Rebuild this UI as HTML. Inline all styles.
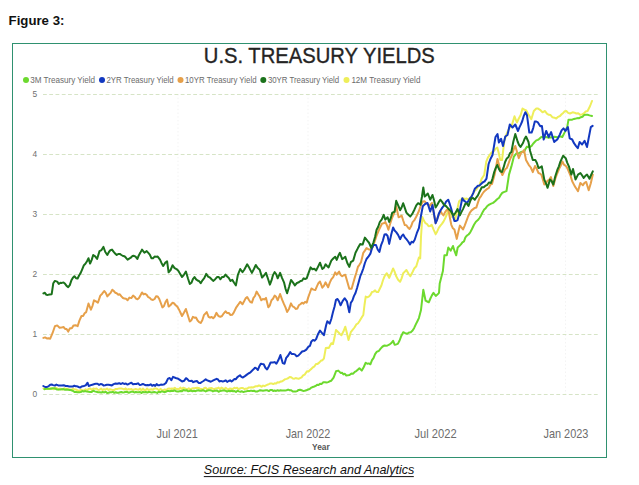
<!DOCTYPE html>
<html><head><meta charset="utf-8"><style>
html,body{margin:0;padding:0;background:#fff;}
body{width:639px;height:485px;position:relative;overflow:hidden;}
</style></head><body>
<svg width="639" height="485" viewBox="0 0 639 485" style="position:absolute;left:0;top:0" font-family="Liberation Sans, sans-serif">
<rect x="12.5" y="43.5" width="594" height="414" fill="none" stroke="#2f9170" stroke-width="1"/>
<line x1="178" y1="94" x2="178" y2="394" stroke="#f3f3f3" stroke-width="1" stroke-dasharray="1.5,2.2"/>
<line x1="308" y1="94" x2="308" y2="394" stroke="#f3f3f3" stroke-width="1" stroke-dasharray="1.5,2.2"/>
<line x1="435.5" y1="94" x2="435.5" y2="394" stroke="#f3f3f3" stroke-width="1" stroke-dasharray="1.5,2.2"/>
<line x1="565.5" y1="94" x2="565.5" y2="394" stroke="#f3f3f3" stroke-width="1" stroke-dasharray="1.5,2.2"/>
<line x1="43" y1="394.5" x2="598" y2="394.5" stroke="#d6e4c6" stroke-width="1" stroke-dasharray="3.8,2.46"/>
<line x1="43" y1="334.5" x2="598" y2="334.5" stroke="#d6e4c6" stroke-width="1" stroke-dasharray="3.8,2.46"/>
<line x1="43" y1="274.5" x2="598" y2="274.5" stroke="#d6e4c6" stroke-width="1" stroke-dasharray="3.8,2.46"/>
<line x1="43" y1="214.5" x2="598" y2="214.5" stroke="#d6e4c6" stroke-width="1" stroke-dasharray="3.8,2.46"/>
<line x1="43" y1="154.5" x2="598" y2="154.5" stroke="#d6e4c6" stroke-width="1" stroke-dasharray="3.8,2.46"/>
<line x1="43" y1="94.5" x2="598" y2="94.5" stroke="#d6e4c6" stroke-width="1" stroke-dasharray="3.8,2.46"/>
<polyline points="43.4,388.5 44.9,388.7 46.4,388.9 48.0,388.9 49.5,389.1 51.0,388.2 52.5,388.7 54.0,389.2 55.5,387.5 57.0,388.4 58.5,389.4 60.0,388.6 61.4,389.0 62.9,389.6 64.3,388.2 65.7,389.0 67.1,388.7 68.6,389.4 70.0,389.4 71.4,389.7 72.8,388.7 74.2,389.2 75.6,389.4 77.0,390.0 78.4,390.9 79.8,390.6 81.2,389.5 82.6,390.7 84.0,390.2 85.6,389.3 87.1,390.1 88.7,388.9 90.3,388.5 91.9,390.0 93.4,388.5 95.0,388.9 96.5,388.4 98.0,389.9 99.5,389.7 101.0,388.6 102.5,390.0 104.0,389.2 105.5,389.5 107.0,388.6 108.5,390.0 110.0,389.2 111.4,389.6 112.9,390.1 114.3,390.0 115.7,388.9 117.1,389.0 118.6,388.6 120.0,388.6 121.4,388.5 122.9,388.9 124.3,389.5 125.7,388.4 127.1,389.7 128.6,389.1 130.0,389.4 131.4,389.0 132.9,390.0 134.3,389.4 135.7,389.1 137.1,389.4 138.6,389.8 140.0,388.6 141.4,390.4 142.9,388.5 144.3,390.0 145.7,390.2 147.1,388.5 148.6,390.1 150.0,389.5 151.5,389.2 153.0,389.7 154.4,388.5 155.9,388.6 157.4,388.9 158.9,390.4 160.4,388.9 161.8,390.0 163.3,390.3 164.8,389.5 166.2,390.2 167.7,388.8 169.1,388.6 170.6,388.7 172.0,388.5 173.4,389.0 174.8,387.7 176.2,389.0 177.6,389.1 179.0,389.2 180.4,387.6 181.8,389.4 183.2,387.7 184.6,388.2 186.0,388.8 187.4,389.4 188.8,388.2 190.2,389.4 191.6,388.7 193.0,388.2 194.4,388.2 195.8,388.0 197.2,387.8 198.6,387.9 200.0,388.6 201.4,389.0 202.9,389.6 204.3,387.9 205.7,387.7 207.1,389.5 208.6,388.6 210.0,388.3 211.4,388.0 212.9,388.7 214.3,389.1 215.7,388.4 217.1,388.3 218.6,387.6 220.0,389.3 221.4,387.5 222.9,388.4 224.3,389.1 225.7,387.7 227.1,388.9 228.6,389.3 230.0,388.4 231.4,388.7 232.9,389.0 234.3,387.7 235.7,388.3 237.1,387.8 238.6,389.2 240.0,388.5 241.4,387.9 242.9,388.1 244.3,389.0 245.8,388.6 247.2,388.7 248.6,387.5 250.1,387.4 251.5,387.3 252.9,387.5 254.4,386.8 255.9,386.3 257.3,386.3 258.8,385.5 260.2,385.8 261.7,386.8 263.1,385.6 264.5,386.2 266.0,385.3 267.4,384.7 268.9,384.1 270.3,383.4 271.7,383.4 273.2,384.1 274.6,383.3 276.1,383.6 277.5,382.2 278.9,382.6 280.4,381.6 281.9,381.4 283.5,380.4 285.0,379.3 286.6,378.9 288.1,378.3 289.7,377.0 291.2,377.3 292.8,378.5 294.3,378.7 295.7,378.1 297.1,378.4 298.6,378.8 300.0,378.1 301.6,377.3 303.1,375.4 304.7,374.6 307.0,371.2 308.5,371.5 310.0,370.0 311.4,368.9 312.9,367.3 314.5,366.3 316.0,364.0 317.6,363.9 319.2,362.6 320.8,360.8 322.3,360.3 323.9,358.6 325.8,347.9 327.4,347.8 328.9,347.9 331.3,343.2 333.0,344.0 334.5,337.6 336.0,329.9 338.3,332.2 339.9,334.0 341.4,335.3 343.4,331.6 345.3,326.7 346.9,333.1 348.5,340.0 350.8,332.2 352.6,329.9 354.5,327.5 356.3,324.4 357.9,323.5 359.4,321.3 361.4,317.9 363.3,315.0 364.5,305.0 365.7,296.6 367.2,297.3 368.8,296.6 370.4,295.0 372.0,292.0 373.6,291.6 375.1,290.4 376.6,292.1 378.2,292.0 379.8,288.8 381.4,285.5 382.9,280.5 384.5,276.3 386.8,273.2 389.2,277.9 391.1,273.3 393.1,268.5 394.6,271.7 396.2,276.3 398.1,279.7 400.1,281.8 401.6,278.4 403.2,273.2 404.8,271.6 406.4,270.0 408.4,273.5 410.3,276.3 412.2,272.8 414.2,268.5 416.3,266.3 418.9,257.5 420.2,258.5 421.0,237.0 422.3,217.0 423.9,220.6 425.5,223.2 427.1,224.1 428.6,226.3 430.1,226.1 431.7,224.8 433.6,229.7 435.6,234.2 437.2,231.4 438.8,227.9 440.4,225.6 441.9,223.9 443.5,221.6 445.3,218.0 447.2,213.5 449.0,209.1 450.6,213.5 452.1,217.0 453.6,217.6 455.2,220.1 457.1,210.0 459.1,201.3 461.1,199.6 463.0,198.2 464.8,199.0 466.7,198.6 468.5,199.7 470.1,198.0 471.6,195.8 473.2,193.5 474.8,190.6 476.4,189.5 477.9,187.0 479.5,185.6 481.6,178.9 484.2,175.0 486.3,161.6 487.9,157.6 489.5,155.4 491.1,153.1 492.6,151.9 494.2,150.7 495.8,148.5 497.3,147.6 498.8,153.2 500.3,160.0 502.0,160.1 504.3,141.3 506.2,134.9 508.2,130.3 510.2,127.1 512.2,124.1 514.5,116.3 516.9,122.5 518.8,118.5 520.7,115.0 522.5,108.5 524.4,109.7 526.3,110.4 527.8,113.4 529.4,116.0 531.3,119.2 533.8,111.0 536.3,108.5 538.1,108.6 540.0,109.8 542.5,112.3 545.0,111.0 546.9,113.7 548.8,114.8 550.6,115.1 552.5,117.3 554.4,117.7 556.3,118.5 558.1,116.8 560.0,116.0 561.6,114.3 563.2,112.9 564.8,111.2 566.3,111.0 568.1,112.9 570.0,113.5 572.6,112.3 574.5,112.7 576.3,113.5 578.2,113.2 580.1,114.8 582.0,114.4 583.8,113.5 585.7,111.5 587.6,111.0 590.1,106.0 592.0,101.0" fill="none" stroke="#eeee5a" stroke-width="2" stroke-linejoin="round" stroke-linecap="round"/>
<polyline points="44.4,389.2 46.0,388.7 47.7,388.4 49.4,388.7 51.0,388.7 52.6,388.3 54.1,388.2 55.7,388.8 57.2,389.6 58.8,389.5 60.3,389.5 61.9,389.2 63.5,389.1 65.0,389.7 66.6,389.6 68.2,389.7 69.8,389.9 71.3,390.3 72.9,390.9 74.5,392.0 76.1,392.0 77.6,392.3 79.2,392.2 80.7,392.1 82.3,391.1 83.8,391.4 85.4,391.1 86.9,391.6 88.5,391.7 90.1,391.9 91.7,391.9 93.2,390.8 94.8,391.4 96.4,391.8 98.0,392.2 99.7,392.2 101.3,392.5 102.8,392.0 104.2,392.4 105.7,391.8 107.1,392.9 108.5,392.8 110.0,392.2 111.4,392.3 112.9,391.9 114.3,392.8 115.7,392.3 117.1,392.8 118.6,392.7 120.0,392.3 121.4,392.1 122.9,392.4 124.3,392.2 125.7,391.8 127.1,392.0 128.6,392.7 130.0,392.3 131.4,391.7 132.9,391.7 134.3,392.5 135.8,392.0 137.2,392.3 138.6,392.3 140.1,392.1 141.5,393.0 142.9,391.9 144.4,392.2 145.8,391.9 147.2,392.5 148.7,392.0 150.1,392.1 151.6,392.6 153.0,392.3 154.4,392.0 155.8,392.4 157.2,392.9 158.6,391.7 160.0,392.3 161.4,391.5 162.9,391.6 164.3,392.2 165.7,391.8 167.1,391.1 168.6,391.1 170.0,391.2 171.5,390.7 173.0,391.0 174.5,390.3 176.0,391.2 177.5,391.4 179.0,391.4 180.5,391.0 182.0,391.3 183.5,389.9 185.0,390.5 186.5,390.2 188.0,391.2 189.5,391.0 191.0,390.5 192.5,391.3 194.0,390.8 195.5,391.2 197.0,390.5 198.5,390.3 200.0,390.8 201.4,390.7 202.9,390.3 204.3,390.7 205.7,391.5 207.1,390.7 208.6,390.3 210.0,390.3 211.4,390.5 212.9,391.4 214.3,390.8 215.7,390.8 217.1,390.5 218.6,391.8 220.0,391.0 221.4,390.7 222.9,390.6 224.3,390.6 225.7,390.8 227.1,391.5 228.6,390.8 230.0,391.3 231.5,390.7 233.0,391.3 234.5,391.0 236.0,392.0 237.5,390.8 239.0,391.4 240.5,391.8 242.0,391.3 243.5,392.1 245.0,391.4 246.5,391.3 248.0,390.9 249.5,391.1 251.0,390.6 252.5,391.0 254.1,390.7 255.6,391.6 257.1,391.5 258.6,390.9 260.1,390.2 261.6,390.5 263.1,390.8 264.5,390.4 266.0,390.3 267.4,390.3 268.9,391.1 270.3,390.0 271.8,389.9 273.2,391.0 274.6,390.5 276.1,391.0 277.5,390.2 279.0,390.8 280.4,390.2 281.9,390.4 283.5,390.6 285.0,390.5 286.6,390.2 288.1,389.6 289.7,390.2 291.2,390.2 292.8,391.5 294.3,391.4 295.7,391.5 297.1,391.1 298.6,389.9 300.0,389.7 301.6,390.3 303.1,390.9 304.7,390.8 306.4,390.3 308.0,389.5 309.7,389.0 311.4,387.6 312.8,387.0 314.3,386.5 315.7,385.9 317.1,384.7 318.6,384.9 320.0,383.7 321.7,383.9 323.3,382.2 325.0,382.3 326.6,382.6 328.1,382.1 329.7,381.3 331.3,380.7 333.6,377.6 336.0,371.3 338.3,370.6 340.6,372.9 342.0,372.7 343.4,374.4 344.9,373.8 346.3,375.5 347.7,375.3 349.5,375.0 351.4,373.6 353.2,373.7 354.8,371.9 356.3,371.1 357.8,369.7 359.4,368.2 361.8,370.6 363.8,367.0 365.7,362.7 367.3,363.8 368.8,363.4 370.4,364.3 372.0,360.2 373.5,358.1 375.1,354.1 376.9,351.6 378.8,351.0 380.6,348.6 382.6,346.5 384.5,345.5 386.1,345.7 387.6,345.4 389.2,344.7 391.1,343.3 393.1,340.8 394.6,344.7 396.2,344.4 397.8,343.9 399.6,340.5 401.4,335.7 403.2,332.2 405.2,333.2 407.2,333.8 409.0,332.5 410.8,332.2 412.6,330.6 414.2,327.9 415.8,324.4 417.4,321.2 418.9,318.1 421.0,310.0 423.3,289.8 425.6,300.7 427.2,301.5 428.8,302.3 430.4,298.5 431.9,295.4 433.5,292.9 435.8,296.0 437.4,294.6 439.0,292.9 439.7,283.5 441.3,277.2 442.9,271.0 444.4,255.3 446.8,255.3 448.3,247.5 450.7,250.6 453.0,246.0 454.6,251.2 456.2,255.3 457.7,247.5 459.3,246.1 460.9,244.4 462.4,242.3 464.0,241.3 465.4,237.3 467.0,235.5 468.5,234.5 470.1,232.6 472.1,228.7 474.0,224.8 475.9,221.8 477.9,220.1 479.5,218.0 481.0,215.4 482.6,212.3 484.2,209.6 485.7,208.2 487.3,206.0 489.2,204.6 491.2,203.6 493.1,202.9 495.1,201.3 497.1,199.2 499.1,197.7 500.8,194.8 502.4,192.7 504.4,191.9 506.5,191.1 509.0,174.6 511.4,166.4 513.9,156.6 516.4,153.3 518.2,153.6 520.0,152.5 522.0,151.8 523.9,152.3 525.5,148.9 527.0,146.6 528.5,147.0 530.0,147.0 531.6,145.9 533.1,143.7 534.7,142.0 536.3,140.4 537.9,139.9 539.4,138.7 541.0,137.3 542.5,136.7 544.0,137.9 545.5,137.0 547.0,137.2 548.5,137.9 550.0,137.5 551.5,137.3 553.0,137.7 554.5,136.7 556.0,137.0 557.6,137.5 559.1,136.5 560.7,136.5 562.3,137.0 564.8,132.1 567.2,127.1 568.5,119.7 570.4,119.7 572.2,119.7 574.0,118.9 575.9,118.5 577.6,118.1 579.2,118.2 580.9,117.2 582.5,116.7 584.2,114.9 585.8,114.8 587.6,114.8 589.5,115.4 592.0,116.0" fill="none" stroke="#6cd92e" stroke-width="2" stroke-linejoin="round" stroke-linecap="round"/>
<polyline points="43.4,337.9 45.1,337.4 46.8,338.4 48.5,338.2 50.2,338.7 52.5,333.2 54.9,326.2 57.2,325.4 59.6,327.7 61.5,327.6 63.5,327.0 65.1,328.9 66.6,329.0 68.2,331.6 70.0,328.3 71.8,328.3 73.6,325.4 75.6,325.2 77.6,326.2 79.5,320.4 81.5,316.0 83.1,315.9 84.6,313.3 86.2,312.1 88.5,303.5 90.9,309.7 92.5,305.8 94.0,300.3 96.0,301.4 97.9,302.7 100.3,295.6 102.2,293.7 104.2,291.0 105.8,292.8 107.3,296.4 109.0,294.5 110.6,292.9 112.3,289.7 113.8,291.0 115.2,292.7 116.7,293.3 118.3,294.8 119.8,294.3 121.4,296.4 123.0,298.0 124.5,298.6 126.0,298.8 127.6,300.3 129.4,297.6 131.3,298.1 133.1,295.6 134.6,296.7 136.0,298.6 137.5,299.2 139.0,297.9 140.5,295.3 142.0,292.5 143.6,294.4 145.1,293.8 146.7,294.9 148.3,297.2 149.8,297.9 151.4,299.6 153.0,299.9 154.6,299.0 156.1,296.2 157.7,296.4 159.3,299.1 160.8,303.0 162.4,307.4 164.0,306.0 165.5,302.0 167.1,299.6 168.6,306.6 170.6,305.0 172.6,302.7 174.2,303.5 175.7,305.3 177.3,306.6 178.9,309.4 180.4,312.5 182.0,316.0 183.9,312.7 185.9,309.0 187.9,315.5 189.8,321.5 191.4,320.2 192.9,316.8 194.4,317.7 196.0,317.6 197.6,320.5 199.1,322.1 200.7,323.0 202.3,320.3 203.9,315.2 206.7,312.1 208.6,316.8 210.1,317.7 211.7,317.0 213.2,318.3 214.8,316.5 216.4,312.9 218.4,316.0 220.3,316.8 222.0,316.0 223.8,313.3 225.5,311.3 227.2,313.1 228.8,313.0 230.5,315.0 232.1,314.8 233.6,312.9 236.3,307.3 238.2,304.7 240.2,301.8 242.5,304.2 244.1,301.3 245.6,298.4 247.2,297.1 248.8,299.8 250.3,302.0 251.9,302.6 253.5,297.9 255.0,296.0 256.6,291.6 258.2,294.3 259.7,296.5 261.3,300.3 262.9,299.0 264.4,299.4 266.0,297.9 268.3,307.3 269.9,305.3 271.5,300.3 273.0,298.8 274.6,295.6 276.1,296.8 277.7,300.3 280.1,294.0 282.1,299.7 284.0,304.2 285.6,307.7 287.1,312.0 289.1,308.7 291.0,303.4 292.6,306.4 294.1,307.1 295.7,308.9 297.3,308.6 298.8,305.3 300.4,304.2 302.0,302.7 303.5,303.7 305.1,301.8 306.7,302.6 308.3,297.1 309.8,293.0 311.4,288.5 313.4,289.6 315.3,290.1 316.9,286.4 318.4,283.2 320.0,281.5 322.3,287.7 323.9,285.9 325.5,282.3 328.1,287.3 329.7,282.9 331.3,279.4 333.2,277.1 335.2,272.4 336.7,274.7 339.1,271.6 340.6,274.9 342.2,276.3 343.8,275.2 345.3,274.7 347.3,281.7 349.3,288.8 351.6,288.8 353.1,283.4 354.7,277.9 356.3,272.8 357.9,266.9 359.4,264.8 361.0,262.2 363.3,252.8 364.9,250.6 366.5,248.1 368.4,249.2 370.4,249.7 371.9,248.5 373.5,245.0 375.0,240.5 376.5,236.0 379.0,229.8 380.6,226.5 382.1,223.5 383.7,223.3 385.3,222.0 386.9,225.2 388.4,229.8 390.4,223.0 392.3,217.3 394.2,213.0 396.2,206.3 398.6,217.3 400.1,216.6 401.7,215.7 403.2,220.5 404.8,225.1 406.4,225.2 407.9,227.5 409.5,229.0 411.1,226.3 412.6,222.1 414.2,220.4 415.8,217.6 417.3,214.5 418.9,211.0 420.9,205.2 422.8,201.6 424.7,201.3 426.3,203.2 427.8,204.3 429.4,206.0 432.0,203.0 433.8,213.6 435.6,223.2 437.2,218.7 438.7,215.4 440.3,210.7 441.9,213.6 443.5,215.4 445.1,212.1 446.6,210.1 448.2,209.1 449.8,217.4 451.3,224.8 452.9,228.3 454.4,229.5 456.8,238.9 458.4,231.6 459.9,225.6 461.4,227.4 463.0,229.5 464.6,225.8 466.2,221.6 468.1,216.5 470.1,212.3 471.6,210.4 473.2,209.1 474.8,207.9 476.3,207.6 477.9,202.6 479.5,198.2 481.1,196.1 482.6,193.5 484.2,191.4 485.7,190.1 487.3,188.8 488.9,187.9 490.4,184.5 492.0,184.1 494.5,175.0 496.0,167.2 497.5,159.0 499.5,167.0 500.9,171.6 502.4,175.0 503.8,172.0 505.2,169.3 506.6,168.3 508.0,165.0 510.0,159.3 512.0,155.0 513.6,149.7 515.3,146.0 517.0,151.9 518.8,158.2 521.0,153.0 522.5,152.0 524.0,150.0 526.0,160.0 528.7,164.8 530.8,167.5 532.8,172.2 535.0,166.0 536.8,169.1 538.5,173.0 540.0,173.6 541.5,175.0 544.3,184.5 545.9,183.5 547.6,180.6 549.2,179.8 550.9,177.1 553.3,186.1 555.3,178.7 557.4,173.0 559.1,168.8 560.7,165.7 562.4,161.5 564.0,164.7 565.7,165.8 567.3,168.1 568.9,171.8 570.6,175.9 572.2,181.2 574.7,186.1 576.4,188.7 578.0,191.1 580.4,182.9 582.9,185.3 584.5,182.9 586.2,182.0 588.7,190.3 590.8,183.2 592.8,174.6" fill="none" stroke="#e6a04a" stroke-width="2" stroke-linejoin="round" stroke-linecap="round"/>
<polyline points="43.3,386.0 45.1,387.0 47.0,387.0 48.8,386.0 50.2,384.7 51.7,384.5 53.1,385.1 54.8,385.6 56.4,384.6 58.2,385.4 60.1,385.5 61.9,385.4 63.7,385.2 65.6,386.0 67.4,386.0 69.2,386.4 71.1,386.5 72.9,386.5 74.4,385.7 75.8,386.3 77.2,386.3 78.7,387.0 80.1,387.6 81.6,386.5 83.8,386.0 85.7,385.4 87.6,382.7 88.7,386.0 91.5,384.9 93.0,384.6 94.4,384.0 95.9,383.8 97.5,383.8 99.1,384.9 100.6,384.0 102.0,384.2 103.5,385.4 105.1,385.2 106.8,384.8 108.4,384.8 110.0,385.0 111.8,385.4 113.7,384.1 115.5,383.5 117.3,383.8 119.2,383.2 121.0,384.0 122.6,383.1 124.2,383.9 125.9,383.6 127.5,384.6 129.4,383.7 131.4,382.7 133.0,384.3 134.7,384.0 136.3,384.0 138.0,383.3 139.6,384.9 141.2,384.7 142.9,384.0 144.5,384.7 146.0,385.2 147.6,385.0 149.1,385.2 150.7,384.3 152.2,385.8 153.8,384.9 155.2,385.9 156.6,384.1 158.0,385.3 159.5,385.2 160.9,384.6 162.3,384.7 163.7,384.6 165.9,383.0 168.0,378.6 169.7,378.0 171.3,380.2 173.0,376.9 175.7,378.0 178.3,378.8 180.2,380.1 182.1,381.5 184.1,380.8 186.0,378.2 187.4,379.1 188.9,380.8 190.3,381.0 191.8,380.8 193.2,382.2 194.7,381.5 196.9,381.0 198.6,382.9 200.2,383.1 201.8,382.0 203.5,381.0 205.7,379.3 207.3,380.3 209.0,381.0 210.4,381.7 211.9,381.1 213.3,380.4 214.9,379.6 216.6,378.8 218.0,379.5 219.4,381.5 221.0,380.9 222.7,381.6 224.3,381.0 225.8,380.3 227.2,381.9 228.7,381.0 230.1,380.3 231.6,381.5 233.0,380.4 234.5,378.9 235.9,379.2 237.4,377.1 240.0,375.2 241.4,376.8 242.9,377.5 244.9,376.1 246.9,374.6 248.4,373.5 250.0,372.7 251.5,371.2 253.2,369.6 255.0,367.7 256.4,368.4 257.9,370.0 259.4,366.2 260.8,363.7 262.2,364.0 263.7,364.2 265.4,367.8 267.1,369.4 268.9,366.2 270.6,362.5 272.9,362.5 274.6,362.1 276.4,363.7 278.4,360.1 280.4,355.0 282.7,363.1 284.5,363.7 286.2,357.9 288.2,355.5 290.2,352.1 291.6,353.9 293.1,353.9 294.9,354.4 296.6,356.2 298.3,355.6 300.0,353.9 302.1,351.5 304.1,351.0 305.6,350.2 307.0,348.7 308.5,346.7 310.0,345.8 311.4,341.4 313.0,340.0 314.5,340.7 316.1,339.1 318.1,333.9 320.0,330.5 321.9,332.9 323.9,335.2 326.2,325.0 327.3,321.3 329.7,323.6 331.3,319.0 333.0,312.0 334.5,306.7 336.0,299.8 337.5,299.0 339.1,301.6 340.6,305.3 342.6,301.1 344.6,298.2 346.9,301.3 349.3,312.3 350.8,302.9 352.4,300.5 353.9,296.1 355.5,293.0 357.2,287.5 359.0,281.0 360.4,275.8 361.9,272.4 363.3,268.5 364.9,263.0 366.5,259.0 368.4,256.7 370.4,253.6 371.9,248.4 373.5,245.0 376.0,245.0 377.7,249.5 379.4,252.0 381.1,245.1 382.8,240.8 384.5,234.5 386.1,234.2 387.6,236.0 389.2,243.9 391.1,235.1 393.1,227.4 394.6,230.5 396.2,232.1 398.1,234.9 400.1,239.2 401.6,236.1 403.2,234.5 404.8,237.3 406.4,239.2 408.2,241.5 410.0,244.4 411.6,241.8 413.1,242.4 414.7,239.7 416.8,233.2 418.9,228.2 420.9,216.2 422.8,206.3 424.7,204.4 426.1,203.4 427.5,203.0 430.2,211.5 432.5,205.0 434.1,214.4 435.6,223.2 437.2,219.6 438.7,214.0 440.3,210.7 442.3,207.6 444.3,205.2 446.2,201.4 448.2,199.7 449.8,204.2 451.3,209.0 452.9,215.5 454.4,220.9 456.0,221.0 457.6,220.1 459.2,213.7 460.7,206.1 462.3,198.2 463.9,200.6 465.4,201.8 467.0,202.9 468.5,200.7 470.1,198.1 471.6,196.6 473.2,193.1 474.8,188.8 476.4,187.3 477.9,185.8 479.5,185.6 481.1,183.9 482.6,182.5 484.6,181.4 486.5,178.6 488.6,164.0 490.6,158.7 492.5,155.0 494.0,146.2 495.5,137.0 497.5,134.0 498.9,142.5 501.1,138.8 503.0,146.0 505.3,136.5 507.5,135.0 509.8,124.5 512.5,127.5 515.3,124.5 518.0,131.0 519.4,127.4 520.9,124.4 522.3,121.0 523.8,115.8 525.4,112.2 527.0,115.3 529.3,132.6 531.6,132.6 533.2,128.1 534.8,121.6 536.3,121.5 537.9,122.4 540.3,126.3 541.9,125.9 543.7,139.5 546.2,130.9 548.7,137.0 551.1,132.1 552.7,137.3 554.2,142.0 555.8,140.6 557.3,139.5 559.8,134.6 561.6,130.4 563.5,128.4 565.4,130.9 567.9,127.1 569.7,138.3 572.2,139.5 574.0,143.2 575.9,145.8 577.8,148.2 579.6,142.0 582.1,144.5 584.6,140.8 587.0,147.0 588.9,137.0 590.8,127.1 592.6,125.9" fill="none" stroke="#1238c0" stroke-width="2" stroke-linejoin="round" stroke-linecap="round"/>
<polyline points="43.4,293.4 44.9,292.8 46.4,294.8 47.9,294.9 49.4,294.5 51.7,294.2 53.3,283.2 54.9,280.9 57.2,281.6 58.8,284.0 60.4,282.8 61.9,282.9 63.5,282.4 65.1,283.8 66.6,285.9 68.2,287.1 69.8,285.1 71.3,280.6 72.9,277.7 74.4,276.2 76.0,278.2 77.6,278.5 79.2,275.2 80.7,272.9 82.3,269.1 83.9,265.2 85.4,263.8 87.0,261.3 88.5,258.2 90.1,263.6 91.7,259.9 93.2,255.0 95.2,256.3 97.1,259.0 99.5,251.1 101.5,250.1 103.4,246.9 105.3,252.0 107.3,255.0 108.9,252.0 110.4,250.2 112.0,249.6 113.5,251.7 115.1,253.5 116.7,255.0 118.2,254.0 119.8,253.9 121.4,255.0 123.0,256.0 124.5,256.2 126.0,257.8 127.6,259.7 129.2,258.6 130.8,257.7 132.3,256.1 133.9,255.8 135.6,256.7 137.3,259.0 138.9,255.2 140.4,252.6 142.0,249.6 144.4,252.7 146.7,251.1 148.3,252.9 149.8,254.6 151.4,258.2 153.0,258.3 154.6,256.6 156.1,256.7 157.7,256.6 160.0,259.7 161.6,263.2 163.2,266.0 165.1,262.9 167.1,261.3 168.6,272.3 170.6,270.0 172.6,265.2 174.6,268.1 176.5,269.1 178.3,270.8 180.2,273.9 182.0,277.0 183.9,274.8 185.9,271.5 187.9,278.3 189.8,284.0 191.4,282.8 192.9,279.1 194.5,277.0 196.1,279.4 197.6,280.5 199.1,281.2 200.7,283.2 202.5,280.3 204.4,277.9 206.2,273.8 208.1,276.6 210.1,277.7 211.6,279.3 213.2,280.9 215.2,279.2 217.2,277.0 218.8,277.0 220.3,279.3 222.0,277.1 223.8,276.9 225.5,274.6 227.2,276.5 228.8,278.0 230.5,280.9 232.3,279.9 234.1,282.8 235.9,285.4 237.8,275.2 240.2,269.0 242.5,272.1 244.1,270.0 245.6,267.3 247.2,264.3 248.8,266.9 250.3,269.9 251.9,272.9 253.9,269.0 255.8,265.0 257.8,268.1 259.7,269.7 262.1,277.6 264.1,275.3 266.0,272.9 267.9,278.5 269.9,284.6 271.5,280.4 273.0,275.1 274.6,272.1 276.1,274.0 277.7,278.3 280.1,272.9 282.1,278.1 284.0,282.3 285.6,289.0 287.1,293.2 289.1,286.8 291.0,279.9 292.9,282.4 294.9,285.4 296.9,283.0 298.9,282.3 300.5,281.0 302.0,280.8 303.6,278.3 305.1,279.0 306.7,278.3 308.6,272.9 310.6,267.4 312.4,269.3 314.3,268.8 316.1,270.5 318.1,266.6 320.0,262.7 322.3,269.0 323.9,267.8 325.5,264.3 327.1,266.0 328.6,267.4 331.3,260.6 333.2,258.5 335.2,256.7 336.7,259.9 338.3,255.8 339.9,252.8 342.2,259.1 343.8,258.0 345.3,256.7 347.3,263.0 349.3,266.9 350.8,262.2 353.2,260.6 355.5,252.8 357.9,248.1 360.2,243.9 362.6,244.6 364.9,237.6 367.3,240.7 369.2,243.0 371.2,247.8 373.5,242.3 375.1,236.8 376.6,229.8 378.2,226.7 379.8,222.0 381.8,219.4 383.7,214.9 385.3,219.6 387.6,217.3 389.2,222.0 390.8,217.9 392.3,212.6 394.6,211.8 396.2,200.8 398.6,206.3 400.1,210.2 401.6,207.5 403.2,203.2 404.8,207.9 406.4,212.6 408.4,214.7 410.3,216.5 412.6,213.3 414.4,209.7 416.3,205.4 418.1,203.2 420.5,204.7 421.9,197.0 423.3,187.5 424.7,196.6 426.2,195.2 427.8,193.5 430.2,199.7 432.5,195.0 434.1,200.5 435.6,207.6 437.2,205.0 438.7,202.3 440.3,199.7 442.3,202.1 444.3,205.2 445.9,206.0 447.4,207.6 448.9,209.2 450.5,210.7 452.1,213.4 453.6,215.4 455.6,212.5 457.6,209.1 459.9,215.4 461.4,212.1 463.0,209.1 465.4,203.6 466.9,203.6 468.5,206.0 470.1,201.4 471.6,198.2 473.2,198.1 474.8,199.7 476.4,197.3 477.9,195.4 479.5,191.9 481.8,187.2 483.8,187.2 485.7,185.6 487.3,184.8 488.9,182.5 491.0,183.0 492.6,178.3 494.2,172.0 495.8,167.9 497.3,165.0 498.9,169.0 500.4,171.4 502.0,172.0 503.6,167.4 505.1,162.0 506.8,158.4 508.5,157.0 509.9,153.3 511.4,152.0 513.3,141.8 515.3,134.0 517.6,141.5 519.0,144.9 520.5,147.0 523.0,143.0 524.5,139.1 526.0,136.5 528.5,142.0 530.1,151.0 532.8,160.0 535.3,159.9 536.9,163.0 538.5,168.0 540.1,167.5 541.8,166.4 544.3,179.6 546.0,183.3 547.6,187.8 550.0,179.6 551.6,181.0 553.3,184.5 555.3,176.2 557.4,169.7 558.9,166.3 560.3,161.9 561.8,158.7 563.2,155.8 565.7,158.2 567.3,162.8 568.9,166.4 571.4,174.6 573.0,168.9 575.5,179.6 578.0,174.6 580.4,173.0 582.0,175.3 583.7,177.9 585.4,175.8 587.0,174.6 589.5,178.8 591.1,175.0 592.8,171.4" fill="none" stroke="#1b721b" stroke-width="2" stroke-linejoin="round" stroke-linecap="round"/>
<text x="37.2" y="396.6" text-anchor="end" font-size="8.4" fill="#707070">0</text>
<text x="37.2" y="336.6" text-anchor="end" font-size="8.4" fill="#707070">1</text>
<text x="37.2" y="276.6" text-anchor="end" font-size="8.4" fill="#707070">2</text>
<text x="37.2" y="216.6" text-anchor="end" font-size="8.4" fill="#707070">3</text>
<text x="37.2" y="156.6" text-anchor="end" font-size="8.4" fill="#707070">4</text>
<text x="37.2" y="96.6" text-anchor="end" font-size="8.4" fill="#707070">5</text>
<text x="8.6" y="25.0" textLength="55.8" lengthAdjust="spacingAndGlyphs" font-size="13" fill="#111" font-weight="bold">Figure 3:</text>
<text x="203.8" y="63.0" textLength="231.0" lengthAdjust="spacingAndGlyphs" font-size="22.9" fill="#252423" stroke="#252423" stroke-width="0.35">U.S. TREASURY YIELDS</text>
<circle cx="26.0" cy="80" r="3" fill="#6cd92e"/>
<text x="30.2" y="83" textLength="64.9" lengthAdjust="spacingAndGlyphs" font-size="8.7" fill="#6b6b6b" >3M Treasury Yield</text>
<circle cx="102.0" cy="80" r="3" fill="#1238c0"/>
<text x="106.5" y="83" textLength="67.1" lengthAdjust="spacingAndGlyphs" font-size="8.7" fill="#6b6b6b" >2YR Treasury Yield</text>
<circle cx="180.5" cy="80" r="3" fill="#e6a04a"/>
<text x="185.0" y="83" textLength="71.5" lengthAdjust="spacingAndGlyphs" font-size="8.7" fill="#6b6b6b" >10YR Treasury Yield</text>
<circle cx="263.3" cy="80" r="3" fill="#1b721b"/>
<text x="267.9" y="83" textLength="71.3" lengthAdjust="spacingAndGlyphs" font-size="8.7" fill="#6b6b6b" >30YR Treasury Yield</text>
<circle cx="346.5" cy="80" r="3" fill="#eeee5a"/>
<text x="351.4" y="83" textLength="69.0" lengthAdjust="spacingAndGlyphs" font-size="8.7" fill="#6b6b6b" >12M Treasury Yield</text>
<text x="156.6" y="437.6" textLength="41.2" lengthAdjust="spacingAndGlyphs" font-size="11.9" fill="#6c6c6c" >Jul 2021</text>
<text x="285.7" y="437.6" textLength="44.5" lengthAdjust="spacingAndGlyphs" font-size="11.9" fill="#6c6c6c" >Jan 2022</text>
<text x="414.5" y="437.6" textLength="42.1" lengthAdjust="spacingAndGlyphs" font-size="11.9" fill="#6c6c6c" >Jul 2022</text>
<text x="543.5" y="437.6" textLength="44.9" lengthAdjust="spacingAndGlyphs" font-size="11.9" fill="#6c6c6c" >Jan 2023</text>
<text x="312.1" y="450.3" textLength="17.6" lengthAdjust="spacingAndGlyphs" font-size="9" fill="#555" font-weight="bold">Year</text>
<text x="203.8" y="473.6" textLength="210.5" lengthAdjust="spacingAndGlyphs" font-size="12.6" fill="#111" font-style="italic">Source: FCIS Research and Analytics</text>
<line x1="203.8" y1="476.6" x2="413.8" y2="476.6" stroke="#111" stroke-width="1"/>
</svg>
</body></html>
